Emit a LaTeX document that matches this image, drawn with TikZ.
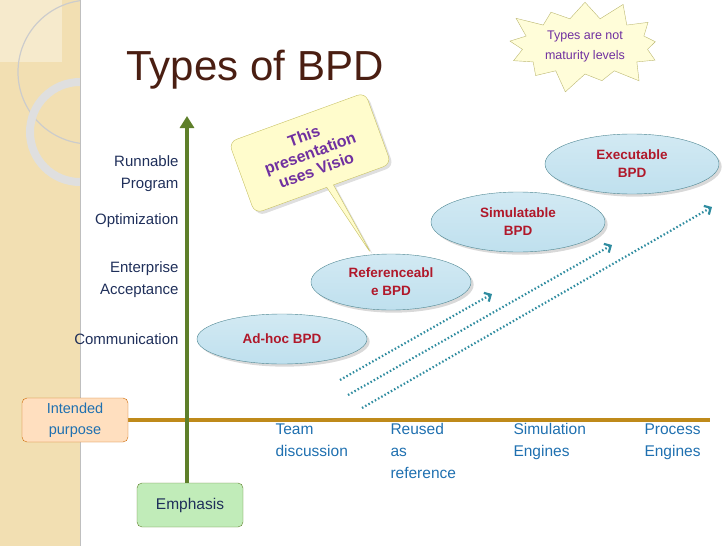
\documentclass[tikz,border=0pt]{standalone}
\usepackage{fontspec}
\setmainfont{Liberation Sans}
\usetikzlibrary{shapes.geometric,shapes.callouts,arrows.meta,shadows}
\definecolor{beige}{HTML}{F2DFB2}
\definecolor{navy}{HTML}{1F2F5A}
\definecolor{lblue}{HTML}{1F70B0}
\definecolor{bred}{HTML}{B0182A}
\definecolor{gold}{HTML}{BF8A1A}
\definecolor{olive}{HTML}{5E7F2A}
\definecolor{teal}{HTML}{2F8CA0}
\definecolor{purp}{HTML}{7030A0}
\definecolor{ebl}{HTML}{BFE0EE}
\definecolor{tbrown}{HTML}{4A1E12}
\tikzset{
 lab/.style={text=navy,font=\fontsize{15}{22}\selectfont,align=right,anchor=east},
 blab/.style={text=lblue,font=\fontsize{15.5}{22}\selectfont,align=left,anchor=north west},
 bpd/.style={ellipse,draw=teal!60!gray,top color=ebl!70,bottom color=ebl,text=bred,font=\bfseries\fontsize{13.5}{18}\selectfont,align=center,drop shadow={opacity=0.3}},
 dot/.style={teal,line width=2.2pt,dash pattern=on 1.5pt off 2.2pt,-{Straight Barb[length=5pt,width=10pt]}},
}
\begin{document}
\begin{tikzpicture}[x=1pt,y=-1pt]
\useasboundingbox (0,0) rectangle (728,546);
\fill[beige] (0,0) rectangle (80,546);
\begin{scope}
\clip (0,0) rectangle (80,546);
\fill[white,opacity=0.35] (0,0) rectangle (62,62);
\draw[gray!40,line width=1.2pt] (90,72) circle (72);
\draw[gray!25,line width=8pt] (80,132) circle (50);
\end{scope}
\draw[gray!50,line width=0.8pt] (80,0) -- (80,546);
\node[text=tbrown,font=\fontsize{42}{44}\selectfont] (title) at (255,70) {Types of BPD};
\node[starburst,starburst points=13,starburst point height=22pt,fill=yellow!15,draw=yellow!40!gray,minimum width=170pt,minimum height=100pt,text=purp,font=\fontsize{12.5}{20}\selectfont,align=center] (star) at (585,46) {Types are not\\maturity levels};
% axes
\draw[gold,line width=3.5pt] (128,420) -- (710,420);
\draw[olive,line width=4pt,-{Triangle[length=12pt,width=14pt]}] (187,483) -- (187,116);
\node[draw=orange!80!black,fill=orange!25,rounded corners=5pt,minimum width=106pt,minimum height=44pt,text=lblue,font=\fontsize{14.5}{21}\selectfont,align=center] (ip) at (75,420) {Intended\\purpose};
\node[draw=olive,fill=green!50!olive!30,rounded corners=5pt,minimum width=106pt,minimum height=44pt,text=navy,font=\fontsize{15.5}{18}\selectfont] (em) at (190,505) {Emphasis};
\node[lab] (l1) at (182,174) {Runnable\\Program};
\node[lab] (l2) at (182,221) {Optimization};
\node[lab] (l3) at (182,280) {Enterprise\\Acceptance};
\node[lab] (l4) at (182,339) {Communication};
\node[blab] (b1) at (272,420) {Team\\discussion};
\node[blab] (b2) at (387,420) {Reused\\as\\reference};
\node[blab] (b3) at (510,420) {Simulation\\Engines};
\node[blab] (b4) at (641,420) {Process\\Engines};
% dotted arrows
\coordinate (d1s) at (340,380); \coordinate (d1e) at (492,294);
\coordinate (d2s) at (348,395); \coordinate (d2e) at (612,245);
\coordinate (d3s) at (362,408); \coordinate (d3e) at (712,207);
\draw[dot] (d1s) -- (d1e);
\draw[dot] (d2s) -- (d2e);
\draw[dot] (d3s) -- (d3e);
% ellipses
\node[bpd,minimum width=170pt,minimum height=50pt] (e1) at (282,339) {Ad-hoc BPD};
\node[bpd,minimum width=160pt,minimum height=56pt] (e2) at (391,282) {Referenceabl\\e BPD};
\node[bpd,minimum width=174pt,minimum height=60pt] (e3) at (518,222) {Simulatable\\BPD};
\node[bpd,minimum width=174pt,minimum height=60pt] (e4) at (632,164) {Executable\\BPD};
% callout
\node[rectangle callout,rotate=20,draw=yellow!50!gray,fill=yellow!20,rounded corners=8pt,minimum width=145pt,minimum height=76pt,callout absolute pointer={(372,255)},drop shadow={opacity=0.25},text=purp,font=\bfseries\fontsize{16}{18}\selectfont,align=center] (co) at (310,153) {This\\presentation\\uses Visio};
\end{tikzpicture}
\end{document}
